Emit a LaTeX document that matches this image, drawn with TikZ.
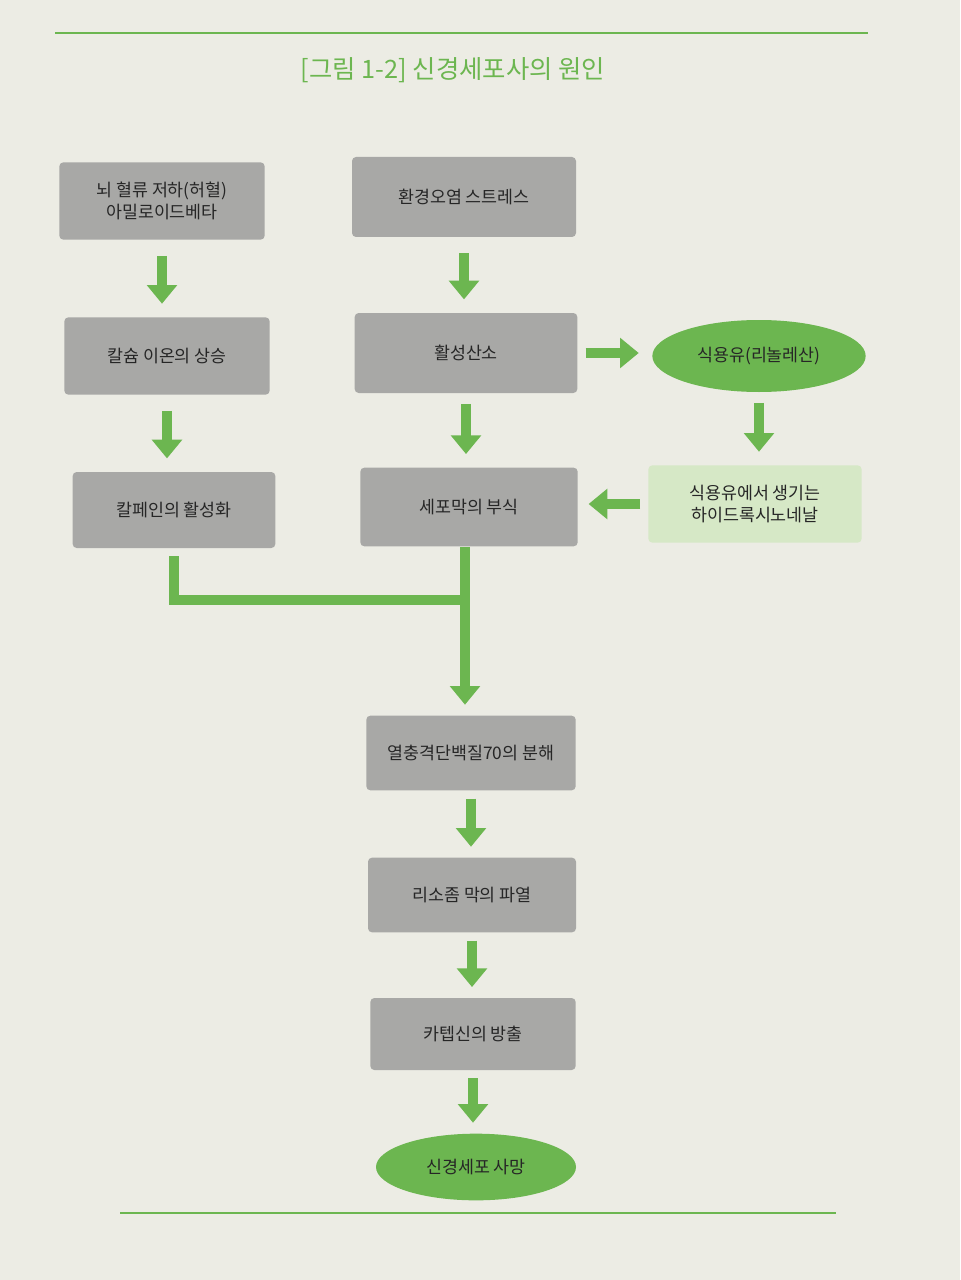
\documentclass[tikz,border=0pt]{standalone}
\usepackage{fontspec}
\setmainfont{Noto Sans CJK KR}
\usetikzlibrary{arrows.meta,shapes.geometric}
\definecolor{page}{RGB}{236,236,228}
\definecolor{boxg}{RGB}{168,168,166}
\definecolor{gr}{RGB}{108,182,80}
\definecolor{lgr}{RGB}{214,232,198}
\tikzset{
  gbox/.style={fill=boxg,rounded corners=3pt,align=center,font=\fontsize{13}{17}\selectfont,text=black!85,inner sep=0pt},
  gell/.style={ellipse,fill=gr,align=center,font=\fontsize{13}{17}\selectfont,text=black!85,inner sep=0pt},
  garr/.style={draw=gr,line width=7pt,-{Triangle[width=22pt,length=14pt]}},
  gline/.style={draw=gr,line width=7pt}
}
\begin{document}
\begin{tikzpicture}[x=0.75pt,y=-0.75pt]
\fill[page] (0,0) rectangle (960,1280);
\useasboundingbox (0,0) rectangle (960,1280);
\draw[gr,line width=1pt] (55,33) -- (868,33);
\draw[gr,line width=1pt] (120,1213) -- (836,1213);
\node[text=gr,font=\fontsize{19}{23}\selectfont] (title) at (453,70) {[그림 1-2] 신경세포사의 원인};
\node[gbox,minimum width=154pt,minimum height=58pt] (a) at (162,201) {뇌 혈류 저하(허혈)\\아밀로이드베타};
\node[gbox,minimum width=168pt,minimum height=60pt] (b) at (464,197) {환경오염 스트레스};
\node[gbox,minimum width=154pt,minimum height=58pt] (c) at (167,356) {칼슘 이온의 상승};
\node[gbox,minimum width=167pt,minimum height=60pt] (d) at (466,353) {활성산소};
\node[gell,minimum width=160pt,minimum height=54pt] (e) at (759,356) {식용유(리놀레산)};
\node[gbox,minimum width=152pt,minimum height=57pt] (f) at (174,510) {칼페인의 활성화};
\node[gbox,minimum width=163pt,minimum height=59pt] (g) at (469,507) {세포막의 부식};
\node[gbox,fill=lgr,minimum width=160pt,minimum height=58pt] (h) at (755,504) {식용유에서 생기는\\하이드록시노네날};
\node[gbox,minimum width=157pt,minimum height=56pt] (i) at (471,753) {열충격단백질70의 분해};
\node[gbox,minimum width=156pt,minimum height=56pt] (j) at (472,895) {리소좀 막의 파열};
\node[gbox,minimum width=154pt,minimum height=54pt] (k) at (473,1034) {카텝신의 방출};
\node[gell,minimum width=150pt,minimum height=50pt] (l) at (476,1167) {신경세포 사망};
\draw[garr] ([yshift=-12]a.south) -- ([yshift=10]a.south |- c.north);
\draw[garr] ([yshift=-12]c.south) -- ([yshift=10]c.south |- f.north);
\draw[garr] ([yshift=-12]b.south) -- ([yshift=10]b.south |- d.north);
\draw[garr] ([yshift=-8]d.south) -- ([yshift=10]d.south |- g.north);
\draw[garr] ([xshift=6]d.east) -- ([xshift=-10]d.east -| e.west);
\draw[garr] ([yshift=-8]e.south) -- ([yshift=10]e.south |- h.north);
\draw[garr] ([xshift=-6]h.west) -- ([xshift=8]h.west -| g.east);
\coordinate (m1) at (f.south |- 0,600);
\coordinate (m2) at (465,600);
\draw[gline] ([yshift=-6]f.south) -- (m1) -- ([xshift=2.6pt]m2);
\draw[garr] (465,547) -- ([yshift=8]i.north -| 465,0);
\draw[garr] ([yshift=-6]i.south) -- ([yshift=8]i.south |- j.north);
\draw[garr] ([yshift=-6]j.south) -- ([yshift=8]j.south |- k.north);
\draw[garr] ([yshift=-6]k.south) -- ([yshift=8]k.south |- l.north);
\end{tikzpicture}
\end{document}
